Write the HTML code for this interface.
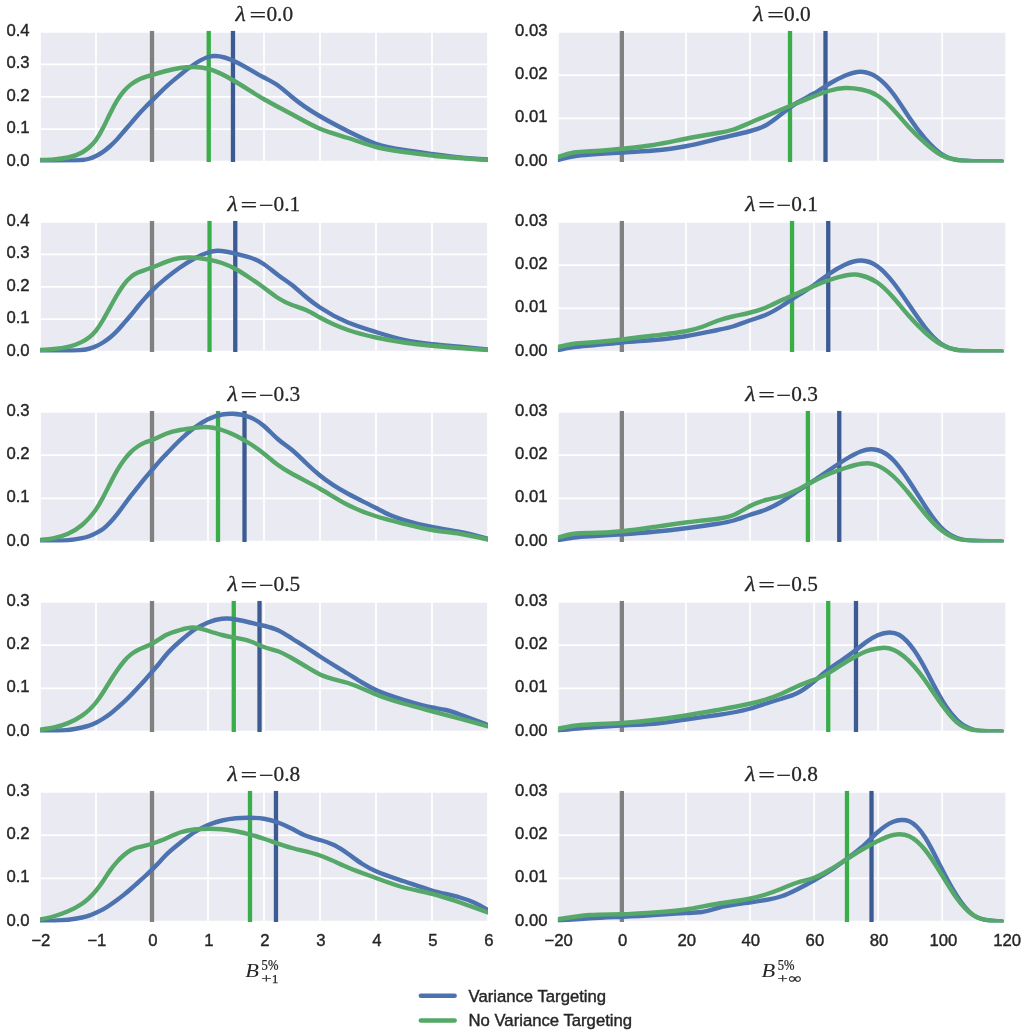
<!DOCTYPE html><html><head><meta charset="utf-8"><title>Bias densities</title>
<style>html,body{margin:0;padding:0;background:#fff}svg{display:block}.t{font-family:"Liberation Sans",sans-serif;font-size:16.7px;fill:#262626;stroke:#262626;stroke-width:0.4px}.m{font-family:"Liberation Serif",serif;fill:#262626;stroke:#262626;stroke-width:0.25px}.c{fill:none;stroke-width:4.4;stroke-linecap:round;stroke-linejoin:round}.v{fill:none;stroke-width:4.3}.g{stroke:#fff;stroke-width:1.67;fill:none}</style></head><body>
<svg width="1024" height="1035" viewBox="0 0 1024 1035">
<rect width="1024" height="1035" fill="#fff"/>
<defs>
<clipPath id="cl0"><rect x="40.00" y="30.70" width="448.00" height="131.80"/></clipPath>
<clipPath id="cr0"><rect x="557.90" y="30.70" width="447.50" height="131.80"/></clipPath>
<clipPath id="cl1"><rect x="40.00" y="220.70" width="448.00" height="131.80"/></clipPath>
<clipPath id="cr1"><rect x="557.90" y="220.70" width="447.50" height="131.80"/></clipPath>
<clipPath id="cl2"><rect x="40.00" y="410.70" width="448.00" height="131.80"/></clipPath>
<clipPath id="cr2"><rect x="557.90" y="410.70" width="447.50" height="131.80"/></clipPath>
<clipPath id="cl3"><rect x="40.00" y="600.70" width="448.00" height="131.80"/></clipPath>
<clipPath id="cr3"><rect x="557.90" y="600.70" width="447.50" height="131.80"/></clipPath>
<clipPath id="cl4"><rect x="40.00" y="790.70" width="448.00" height="131.80"/></clipPath>
<clipPath id="cr4"><rect x="557.90" y="790.70" width="447.50" height="131.80"/></clipPath>
</defs>
<g>
<rect x="40.00" y="32.00" width="448.00" height="129.60" fill="#eaeaf2"/>
<g clip-path="url(#cl0)">
<path class="g" d="M40.00 32.00V161.60M96.00 32.00V161.60M152.00 32.00V161.60M208.00 32.00V161.60M264.00 32.00V161.60M320.00 32.00V161.60M376.00 32.00V161.60M432.00 32.00V161.60M488.00 32.00V161.60M40.00 161.60H488.00M40.00 129.20H488.00M40.00 96.80H488.00M40.00 64.40H488.00M40.00 32.00H488.00"/>
<path class="v" stroke="#808080" d="M152.00 30.70V162.10"/>
<path class="v" stroke="#39ad48" d="M208.73 30.70V162.10"/>
<path class="v" stroke="#3b5b92" d="M232.98 30.70V162.10"/>
<path class="c" stroke="#4c72b0" d="M40.00 161.00C49.33 160.88 58.67 160.76 68.00 160.62C72.67 160.56 77.33 160.49 82.00 160.00C84.33 159.75 86.67 159.40 89.00 158.75C91.33 158.10 93.67 157.15 96.00 156.00C98.33 154.85 100.67 153.50 103.00 151.88C105.33 150.25 107.67 148.33 110.00 146.25C112.33 144.17 114.67 141.92 117.00 139.38C119.33 136.83 121.67 134.00 124.00 131.25C126.33 128.50 128.67 125.84 131.00 123.12C133.33 120.41 135.67 117.64 138.00 115.00C140.33 112.36 142.67 109.86 145.00 107.50C147.33 105.14 149.67 102.92 152.00 100.62C156.67 96.04 161.33 91.19 166.00 86.88C170.67 82.56 175.33 78.80 180.00 75.00C189.33 67.41 198.67 59.69 208.00 57.00C209.87 56.46 211.73 56.13 213.60 56.00C221.07 55.49 228.53 58.32 236.00 62.00C245.33 66.60 254.67 72.54 264.00 77.50C268.67 79.98 273.33 82.22 278.00 85.50C282.67 88.78 287.33 93.11 292.00 97.00C301.33 104.78 310.67 110.82 320.00 116.25C329.33 121.68 338.67 126.52 348.00 131.25C357.33 135.98 366.67 140.61 376.00 143.75C385.33 146.89 394.67 148.54 404.00 150.00C413.33 151.46 422.67 152.72 432.00 154.00C441.33 155.28 450.67 156.58 460.00 157.50C469.33 158.42 478.67 158.96 488.00 159.50"/>
<path class="c" stroke="#55a868" d="M40.00 160.00C44.67 159.86 49.33 159.73 54.00 159.38C58.67 159.02 63.33 158.46 68.00 157.50C72.67 156.54 77.33 155.18 82.00 152.50C84.33 151.16 86.67 149.49 89.00 147.50C91.33 145.51 93.67 143.20 96.00 140.00C98.33 136.80 100.67 132.69 103.00 128.12C105.33 123.56 107.67 118.53 110.00 113.75C112.33 108.97 114.67 104.45 117.00 100.62C119.33 96.80 121.67 93.66 124.00 91.00C126.33 88.34 128.67 86.17 131.00 84.38C133.33 82.58 135.67 81.16 138.00 80.00C142.67 77.67 147.33 76.36 152.00 75.00C156.67 73.64 161.33 72.23 166.00 71.00C170.67 69.77 175.33 68.71 180.00 68.00C184.67 67.29 189.33 66.93 194.00 67.00C198.67 67.07 203.33 67.56 208.00 68.75C217.33 71.13 226.67 76.32 236.00 82.00C245.33 87.68 254.67 93.87 264.00 99.25C273.33 104.63 282.67 109.20 292.00 114.25C301.33 119.30 310.67 124.82 320.00 128.75C329.33 132.68 338.67 135.03 348.00 138.00C357.33 140.97 366.67 144.56 376.00 147.00C385.33 149.44 394.67 150.74 404.00 152.00C413.33 153.26 422.67 154.49 432.00 155.50C441.33 156.51 450.67 157.29 460.00 158.00C469.33 158.71 478.67 159.36 488.00 160.00"/>
</g>
<text class="t" x="29.60" y="165.50" text-anchor="end">0.0</text>
<text class="t" x="29.60" y="133.10" text-anchor="end">0.1</text>
<text class="t" x="29.60" y="100.70" text-anchor="end">0.2</text>
<text class="t" x="29.60" y="68.30" text-anchor="end">0.3</text>
<text class="t" x="29.60" y="35.90" text-anchor="end">0.4</text>
<g class="m" font-size="20.5px" transform="translate(264.00 20.60)">
<text transform="translate(-28.50 0.0) scale(1.160 1)" font-style="italic">λ</text>
<text transform="translate(-14.40 1.5) scale(1.450 1)">=</text>
<text transform="translate(2.40 0.0) scale(1.040 1)">0.0</text>
</g>
</g>
<g>
<rect x="557.90" y="32.00" width="447.50" height="129.60" fill="#eaeaf2"/>
<g clip-path="url(#cr0)">
<path class="g" d="M557.90 32.00V161.60M621.95 32.00V161.60M686.00 32.00V161.60M750.05 32.00V161.60M814.10 32.00V161.60M878.15 32.00V161.60M942.20 32.00V161.60M1006.25 32.00V161.60M557.90 161.60H1005.40M557.90 118.40H1005.40M557.90 75.20H1005.40M557.90 32.00H1005.40"/>
<path class="v" stroke="#808080" d="M621.86 30.70V162.10"/>
<path class="v" stroke="#39ad48" d="M790.02 30.70V162.10"/>
<path class="v" stroke="#3b5b92" d="M825.50 30.70V162.10"/>
<path class="c" stroke="#4c72b0" d="M558.00 160.00C563.32 158.59 568.64 157.17 573.96 156.25C579.29 155.33 584.61 154.89 589.93 154.50C600.57 153.71 611.21 153.08 621.86 152.50C632.50 151.92 643.14 151.40 653.79 150.50C664.43 149.60 675.07 148.32 685.71 146.25C696.36 144.18 707.00 141.30 717.64 138.75C728.29 136.20 738.93 133.96 749.57 131.25C754.89 129.90 760.21 128.42 765.54 125.50C770.86 122.58 776.18 118.21 781.50 114.00C786.82 109.79 792.14 105.74 797.46 102.50C802.79 99.26 808.11 96.82 813.43 93.75C818.75 90.68 824.07 86.99 829.39 83.75C834.71 80.51 840.04 77.72 845.36 75.50C850.68 73.28 856.00 71.62 861.32 71.75C866.64 71.88 871.96 73.81 877.29 77.50C882.61 81.19 887.93 86.65 893.25 93.75C898.57 100.85 903.89 109.57 909.21 117.50C914.54 125.43 919.86 132.55 925.18 138.75C930.50 144.95 935.82 150.23 941.14 153.75C946.46 157.27 951.79 159.03 957.11 160.00C962.43 160.97 967.75 161.14 973.07 161.25C982.65 161.45 992.23 161.48 1001.81 161.50"/>
<path class="c" stroke="#55a868" d="M558.00 157.00C563.32 155.22 568.64 153.43 573.96 152.50C579.29 151.57 584.61 151.48 589.93 151.25C600.57 150.79 611.21 149.77 621.86 148.75C632.50 147.73 643.14 146.72 653.79 145.00C664.43 143.28 675.07 140.87 685.71 138.75C696.36 136.63 707.00 134.81 717.64 133.00C722.96 132.09 728.29 131.19 733.61 129.50C738.93 127.81 744.25 125.33 749.57 123.00C754.89 120.67 760.21 118.49 765.54 116.25C770.86 114.01 776.18 111.71 781.50 109.50C786.82 107.29 792.14 105.16 797.46 103.00C802.79 100.84 808.11 98.64 813.43 96.50C818.75 94.36 824.07 92.29 829.39 90.75C834.71 89.21 840.04 88.20 845.36 88.00C850.68 87.80 856.00 88.40 861.32 89.50C866.64 90.60 871.96 92.21 877.29 95.50C882.61 98.79 887.93 103.76 893.25 109.50C898.57 115.24 903.89 121.74 909.21 127.50C914.54 133.26 919.86 138.28 925.18 143.00C930.50 147.72 935.82 152.13 941.14 155.00C946.46 157.87 951.79 159.20 957.11 160.00C962.43 160.80 967.75 161.08 973.07 161.25C982.65 161.56 992.23 161.53 1001.81 161.50"/>
</g>
<text class="t" x="547.50" y="165.50" text-anchor="end">0.00</text>
<text class="t" x="547.50" y="122.30" text-anchor="end">0.01</text>
<text class="t" x="547.50" y="79.10" text-anchor="end">0.02</text>
<text class="t" x="547.50" y="35.90" text-anchor="end">0.03</text>
<g class="m" font-size="20.5px" transform="translate(781.65 20.60)">
<text transform="translate(-28.50 0.0) scale(1.160 1)" font-style="italic">λ</text>
<text transform="translate(-14.40 1.5) scale(1.450 1)">=</text>
<text transform="translate(2.40 0.0) scale(1.040 1)">0.0</text>
</g>
</g>
<g>
<rect x="40.00" y="222.00" width="448.00" height="129.60" fill="#eaeaf2"/>
<g clip-path="url(#cl1)">
<path class="g" d="M40.00 222.00V351.60M96.00 222.00V351.60M152.00 222.00V351.60M208.00 222.00V351.60M264.00 222.00V351.60M320.00 222.00V351.60M376.00 222.00V351.60M432.00 222.00V351.60M488.00 222.00V351.60M40.00 351.60H488.00M40.00 319.20H488.00M40.00 286.80H488.00M40.00 254.40H488.00M40.00 222.00H488.00"/>
<path class="v" stroke="#808080" d="M152.00 220.70V352.10"/>
<path class="v" stroke="#39ad48" d="M209.51 220.70V352.10"/>
<path class="v" stroke="#3b5b92" d="M235.27 220.70V352.10"/>
<path class="c" stroke="#4c72b0" d="M40.00 351.00C49.33 350.96 58.67 350.93 68.00 350.75C72.67 350.66 77.33 350.54 82.00 350.00C84.33 349.73 86.67 349.36 89.00 348.75C91.33 348.14 93.67 347.30 96.00 346.25C98.33 345.20 100.67 343.95 103.00 342.50C105.33 341.05 107.67 339.40 110.00 337.50C112.33 335.60 114.67 333.45 117.00 331.00C119.33 328.55 121.67 325.80 124.00 323.12C126.33 320.45 128.67 317.83 131.00 315.00C133.33 312.17 135.67 309.11 138.00 306.25C140.33 303.39 142.67 300.73 145.00 298.12C147.33 295.52 149.67 292.98 152.00 290.62C156.67 285.91 161.33 281.91 166.00 278.12C170.67 274.34 175.33 270.75 180.00 267.50C184.67 264.25 189.33 261.32 194.00 258.75C198.67 256.18 203.33 253.96 208.00 252.50C211.17 251.51 214.33 250.87 217.50 250.75C223.67 250.51 229.83 252.23 236.00 253.75C240.67 254.90 245.33 255.94 250.00 257.50C254.67 259.06 259.33 261.14 264.00 264.25C268.67 267.36 273.33 271.50 278.00 275.00C282.67 278.50 287.33 281.36 292.00 285.00C296.67 288.64 301.33 293.06 306.00 297.00C310.67 300.94 315.33 304.38 320.00 307.50C329.33 313.74 338.67 318.66 348.00 322.50C357.33 326.34 366.67 329.11 376.00 332.00C385.33 334.89 394.67 337.90 404.00 340.00C413.33 342.10 422.67 343.30 432.00 344.25C441.33 345.20 450.67 345.92 460.00 346.75C469.33 347.58 478.67 348.54 488.00 349.50"/>
<path class="c" stroke="#55a868" d="M40.00 350.00C44.67 349.72 49.33 349.44 54.00 349.00C58.67 348.56 63.33 347.95 68.00 346.88C72.67 345.80 77.33 344.26 82.00 341.88C84.33 340.68 86.67 339.28 89.00 337.50C91.33 335.72 93.67 333.56 96.00 330.62C98.33 327.69 100.67 323.98 103.00 320.00C105.33 316.02 107.67 311.77 110.00 307.50C112.33 303.23 114.67 298.95 117.00 295.00C119.33 291.05 121.67 287.43 124.00 284.38C126.33 281.32 128.67 278.82 131.00 276.88C133.33 274.93 135.67 273.54 138.00 272.50C140.33 271.46 142.67 270.76 145.00 270.00C147.33 269.24 149.67 268.40 152.00 267.50C156.67 265.70 161.33 263.63 166.00 261.88C170.67 260.12 175.33 258.68 180.00 258.00C183.33 257.51 186.67 257.41 190.00 257.50C196.00 257.65 202.00 258.40 208.00 259.50C212.67 260.35 217.33 261.42 222.00 263.00C226.67 264.58 231.33 266.67 236.00 269.25C240.67 271.83 245.33 274.89 250.00 278.00C254.67 281.11 259.33 284.28 264.00 287.75C268.67 291.22 273.33 294.99 278.00 298.00C282.67 301.01 287.33 303.26 292.00 305.00C296.67 306.74 301.33 307.96 306.00 310.00C310.67 312.04 315.33 314.90 320.00 317.50C324.67 320.10 329.33 322.42 334.00 324.50C338.67 326.58 343.33 328.40 348.00 330.00C357.33 333.20 366.67 335.51 376.00 337.50C385.33 339.49 394.67 341.15 404.00 342.50C413.33 343.85 422.67 344.88 432.00 345.75C441.33 346.62 450.67 347.32 460.00 348.00C469.33 348.68 478.67 349.34 488.00 350.00"/>
</g>
<text class="t" x="29.60" y="355.50" text-anchor="end">0.0</text>
<text class="t" x="29.60" y="323.10" text-anchor="end">0.1</text>
<text class="t" x="29.60" y="290.70" text-anchor="end">0.2</text>
<text class="t" x="29.60" y="258.30" text-anchor="end">0.3</text>
<text class="t" x="29.60" y="225.90" text-anchor="end">0.4</text>
<g class="m" font-size="20.5px" transform="translate(264.00 210.60)">
<text transform="translate(-36.40 0.0) scale(1.160 1)" font-style="italic">λ</text>
<text transform="translate(-23.50 1.5) scale(1.450 1)">=</text>
<text transform="translate(-5.30 1.5) scale(1.280 1)">−</text>
<text transform="translate(9.50 0.0) scale(1.040 1)">0.1</text>
</g>
</g>
<g>
<rect x="557.90" y="222.00" width="447.50" height="129.60" fill="#eaeaf2"/>
<g clip-path="url(#cr1)">
<path class="g" d="M557.90 222.00V351.60M621.95 222.00V351.60M686.00 222.00V351.60M750.05 222.00V351.60M814.10 222.00V351.60M878.15 222.00V351.60M942.20 222.00V351.60M1006.25 222.00V351.60M557.90 351.60H1005.40M557.90 308.40H1005.40M557.90 265.20H1005.40M557.90 222.00H1005.40"/>
<path class="v" stroke="#808080" d="M621.86 220.70V352.10"/>
<path class="v" stroke="#39ad48" d="M792.04 220.70V352.10"/>
<path class="v" stroke="#3b5b92" d="M828.24 220.70V352.10"/>
<path class="c" stroke="#4c72b0" d="M558.00 350.00C563.32 348.87 568.64 347.74 573.96 347.00C579.29 346.26 584.61 345.93 589.93 345.50C600.57 344.65 611.21 343.44 621.86 342.50C632.50 341.56 643.14 340.89 653.79 340.00C664.43 339.11 675.07 337.99 685.71 336.25C696.36 334.51 707.00 332.15 717.64 330.00C722.96 328.92 728.29 327.90 733.61 326.25C738.93 324.60 744.25 322.34 749.57 320.50C754.89 318.66 760.21 317.25 765.54 315.00C770.86 312.75 776.18 309.65 781.50 306.25C786.82 302.85 792.14 299.16 797.46 295.75C802.79 292.34 808.11 289.22 813.43 285.50C818.75 281.78 824.07 277.47 829.39 273.75C834.71 270.03 840.04 266.91 845.36 264.50C850.68 262.09 856.00 260.41 861.32 260.50C866.64 260.59 871.96 262.47 877.29 266.25C882.61 270.03 887.93 275.72 893.25 282.50C898.57 289.28 903.89 297.14 909.21 305.00C914.54 312.86 919.86 320.70 925.18 327.50C930.50 334.30 935.82 340.05 941.14 343.75C946.46 347.45 951.79 349.08 957.11 350.00C962.43 350.92 967.75 351.12 973.07 351.25C982.65 351.49 992.23 351.49 1001.81 351.50"/>
<path class="c" stroke="#55a868" d="M558.00 347.00C563.32 345.74 568.64 344.48 573.96 343.75C579.29 343.02 584.61 342.82 589.93 342.50C600.57 341.87 611.21 340.79 621.86 339.50C632.50 338.21 643.14 336.72 653.79 335.50C664.43 334.28 675.07 333.33 685.71 331.25C691.04 330.21 696.36 328.89 701.68 327.00C707.00 325.11 712.32 322.67 717.64 320.75C722.96 318.83 728.29 317.45 733.61 316.25C738.93 315.05 744.25 314.03 749.57 312.75C754.89 311.47 760.21 309.93 765.54 307.75C770.86 305.57 776.18 302.75 781.50 300.25C786.82 297.75 792.14 295.56 797.46 293.25C802.79 290.94 808.11 288.53 813.43 286.25C818.75 283.97 824.07 281.84 829.39 280.00C834.71 278.16 840.04 276.60 845.36 275.50C848.55 274.84 851.74 274.35 854.94 274.50C857.06 274.60 859.19 274.99 861.32 275.50C866.64 276.78 871.96 278.82 877.29 282.50C882.61 286.18 887.93 291.49 893.25 297.50C898.57 303.51 903.89 310.21 909.21 316.25C914.54 322.29 919.86 327.68 925.18 332.50C930.50 337.32 935.82 341.56 941.14 344.50C946.46 347.44 951.79 349.08 957.11 350.00C962.43 350.92 967.75 351.12 973.07 351.25C982.65 351.48 992.23 351.49 1001.81 351.50"/>
</g>
<text class="t" x="547.50" y="355.50" text-anchor="end">0.00</text>
<text class="t" x="547.50" y="312.30" text-anchor="end">0.01</text>
<text class="t" x="547.50" y="269.10" text-anchor="end">0.02</text>
<text class="t" x="547.50" y="225.90" text-anchor="end">0.03</text>
<g class="m" font-size="20.5px" transform="translate(781.65 210.60)">
<text transform="translate(-36.40 0.0) scale(1.160 1)" font-style="italic">λ</text>
<text transform="translate(-23.50 1.5) scale(1.450 1)">=</text>
<text transform="translate(-5.30 1.5) scale(1.280 1)">−</text>
<text transform="translate(9.50 0.0) scale(1.040 1)">0.1</text>
</g>
</g>
<g>
<rect x="40.00" y="412.00" width="448.00" height="129.60" fill="#eaeaf2"/>
<g clip-path="url(#cl2)">
<path class="g" d="M40.00 412.00V541.60M96.00 412.00V541.60M152.00 412.00V541.60M208.00 412.00V541.60M264.00 412.00V541.60M320.00 412.00V541.60M376.00 412.00V541.60M432.00 412.00V541.60M488.00 412.00V541.60M40.00 541.60H488.00M40.00 498.40H488.00M40.00 455.20H488.00M40.00 412.00H488.00"/>
<path class="v" stroke="#808080" d="M152.00 410.70V542.10"/>
<path class="v" stroke="#39ad48" d="M218.02 410.70V542.10"/>
<path class="v" stroke="#3b5b92" d="M244.51 410.70V542.10"/>
<path class="c" stroke="#4c72b0" d="M40.00 541.00C44.67 540.91 49.33 540.82 54.00 540.75C58.67 540.68 63.33 540.64 68.00 540.25C72.67 539.86 77.33 539.11 82.00 538.12C84.33 537.63 86.67 537.09 89.00 536.25C91.33 535.41 93.67 534.29 96.00 533.12C98.33 531.96 100.67 530.74 103.00 529.00C105.33 527.26 107.67 524.98 110.00 522.50C112.33 520.02 114.67 517.33 117.00 514.38C119.33 511.42 121.67 508.20 124.00 505.00C126.33 501.80 128.67 498.63 131.00 495.62C133.33 492.62 135.67 489.80 138.00 486.88C140.33 483.95 142.67 480.94 145.00 478.12C147.33 475.31 149.67 472.71 152.00 470.00C154.33 467.29 156.67 464.49 159.00 461.88C161.33 459.26 163.67 456.83 166.00 454.38C170.67 449.47 175.33 444.50 180.00 440.00C184.67 435.50 189.33 431.49 194.00 428.00C198.67 424.51 203.33 421.54 208.00 419.25C212.67 416.96 217.33 415.35 222.00 414.50C225.50 413.87 229.00 413.66 232.50 413.75C238.33 413.90 244.17 414.86 250.00 417.25C254.67 419.16 259.33 421.99 264.00 426.00C268.67 430.01 273.33 435.20 278.00 439.25C282.67 443.30 287.33 446.19 292.00 450.00C296.67 453.81 301.33 458.52 306.00 463.00C310.67 467.48 315.33 471.72 320.00 475.50C329.33 483.05 338.67 488.72 348.00 493.75C357.33 498.78 366.67 503.16 376.00 508.00C380.67 510.42 385.33 512.96 390.00 515.00C394.67 517.04 399.33 518.58 404.00 520.00C413.33 522.84 422.67 525.18 432.00 527.00C441.33 528.82 450.67 530.13 460.00 532.00C469.33 533.87 478.67 536.31 488.00 538.75"/>
<path class="c" stroke="#55a868" d="M40.00 540.00C44.67 539.53 49.33 539.06 54.00 538.12C58.67 537.19 63.33 535.80 68.00 533.75C72.67 531.70 77.33 529.00 82.00 525.00C84.33 523.00 86.67 520.68 89.00 518.12C91.33 515.57 93.67 512.79 96.00 509.38C98.33 505.96 100.67 501.90 103.00 497.50C105.33 493.10 107.67 488.37 110.00 483.75C112.33 479.13 114.67 474.63 117.00 470.62C119.33 466.62 121.67 463.12 124.00 460.00C126.33 456.88 128.67 454.15 131.00 451.88C133.33 449.60 135.67 447.79 138.00 446.25C140.33 444.71 142.67 443.46 145.00 442.50C147.33 441.54 149.67 440.88 152.00 440.00C156.67 438.24 161.33 435.60 166.00 433.75C170.67 431.90 175.33 430.82 180.00 430.00C184.67 429.18 189.33 428.61 194.00 428.00C197.67 427.52 201.33 427.01 205.00 427.00C210.67 426.99 216.33 428.18 222.00 430.00C226.67 431.50 231.33 433.44 236.00 435.75C240.67 438.06 245.33 440.75 250.00 443.75C254.67 446.75 259.33 450.04 264.00 453.75C268.67 457.46 273.33 461.57 278.00 465.00C282.67 468.43 287.33 471.17 292.00 473.75C301.33 478.91 310.67 483.43 320.00 488.75C329.33 494.07 338.67 500.18 348.00 505.00C357.33 509.82 366.67 513.35 376.00 516.25C385.33 519.15 394.67 521.43 404.00 523.75C413.33 526.07 422.67 528.44 432.00 530.00C441.33 531.56 450.67 532.30 460.00 533.75C469.33 535.20 478.67 537.35 488.00 539.50"/>
</g>
<text class="t" x="29.60" y="545.50" text-anchor="end">0.0</text>
<text class="t" x="29.60" y="502.30" text-anchor="end">0.1</text>
<text class="t" x="29.60" y="459.10" text-anchor="end">0.2</text>
<text class="t" x="29.60" y="415.90" text-anchor="end">0.3</text>
<g class="m" font-size="20.5px" transform="translate(264.00 400.60)">
<text transform="translate(-36.40 0.0) scale(1.160 1)" font-style="italic">λ</text>
<text transform="translate(-23.50 1.5) scale(1.450 1)">=</text>
<text transform="translate(-5.30 1.5) scale(1.280 1)">−</text>
<text transform="translate(9.50 0.0) scale(1.040 1)">0.3</text>
</g>
</g>
<g>
<rect x="557.90" y="412.00" width="447.50" height="129.60" fill="#eaeaf2"/>
<g clip-path="url(#cr2)">
<path class="g" d="M557.90 412.00V541.60M621.95 412.00V541.60M686.00 412.00V541.60M750.05 412.00V541.60M814.10 412.00V541.60M878.15 412.00V541.60M942.20 412.00V541.60M1006.25 412.00V541.60M557.90 541.60H1005.40M557.90 498.40H1005.40M557.90 455.20H1005.40M557.90 412.00H1005.40"/>
<path class="v" stroke="#808080" d="M621.86 410.70V542.10"/>
<path class="v" stroke="#39ad48" d="M807.90 410.70V542.10"/>
<path class="v" stroke="#3b5b92" d="M839.26 410.70V542.10"/>
<path class="c" stroke="#4c72b0" d="M558.00 540.00C563.32 539.06 568.64 538.12 573.96 537.50C579.29 536.88 584.61 536.57 589.93 536.25C600.57 535.62 611.21 534.97 621.86 534.25C632.50 533.53 643.14 532.74 653.79 531.75C664.43 530.76 675.07 529.59 685.71 528.25C696.36 526.91 707.00 525.42 717.64 523.75C722.96 522.91 728.29 522.03 733.61 520.50C738.93 518.97 744.25 516.79 749.57 515.00C754.89 513.21 760.21 511.81 765.54 509.75C770.86 507.69 776.18 504.97 781.50 501.75C786.82 498.53 792.14 494.82 797.46 491.25C802.79 487.68 808.11 484.27 813.43 480.75C818.75 477.23 824.07 473.61 829.39 470.00C834.71 466.39 840.04 462.80 845.36 459.50C850.68 456.20 856.00 453.18 861.32 451.25C864.51 450.09 867.71 449.33 870.90 449.25C873.03 449.20 875.16 449.45 877.29 450.00C882.61 451.37 887.93 454.57 893.25 460.00C898.57 465.43 903.89 473.09 909.21 481.25C914.54 489.41 919.86 498.09 925.18 506.25C930.50 514.41 935.82 522.07 941.14 527.50C946.46 532.93 951.79 536.13 957.11 538.00C962.43 539.87 967.75 540.40 973.07 540.75C982.65 541.38 992.23 541.44 1001.81 541.50"/>
<path class="c" stroke="#55a868" d="M558.00 537.50C563.32 535.99 568.64 534.48 573.96 533.75C579.29 533.02 584.61 533.06 589.93 533.00C600.57 532.87 611.21 532.32 621.86 531.25C632.50 530.18 643.14 528.59 653.79 527.00C664.43 525.41 675.07 523.81 685.71 522.50C696.36 521.19 707.00 520.16 717.64 518.75C722.96 518.04 728.29 517.24 733.61 515.00C738.93 512.76 744.25 509.09 749.57 506.25C754.89 503.41 760.21 501.40 765.54 500.00C770.86 498.60 776.18 497.79 781.50 496.25C786.82 494.71 792.14 492.42 797.46 489.75C802.79 487.08 808.11 484.04 813.43 481.25C818.75 478.46 824.07 475.93 829.39 473.75C834.71 471.57 840.04 469.74 845.36 468.00C850.68 466.26 856.00 464.63 861.32 463.75C863.45 463.40 865.58 463.17 867.71 463.25C870.90 463.37 874.09 464.17 877.29 465.50C882.61 467.71 887.93 471.38 893.25 476.25C898.57 481.12 903.89 487.18 909.21 493.75C914.54 500.32 919.86 507.40 925.18 513.75C930.50 520.10 935.82 525.73 941.14 530.00C946.46 534.27 951.79 537.18 957.11 538.75C962.43 540.32 967.75 540.56 973.07 540.75C982.65 541.10 992.23 541.30 1001.81 541.50"/>
</g>
<text class="t" x="547.50" y="545.50" text-anchor="end">0.00</text>
<text class="t" x="547.50" y="502.30" text-anchor="end">0.01</text>
<text class="t" x="547.50" y="459.10" text-anchor="end">0.02</text>
<text class="t" x="547.50" y="415.90" text-anchor="end">0.03</text>
<g class="m" font-size="20.5px" transform="translate(781.65 400.60)">
<text transform="translate(-36.40 0.0) scale(1.160 1)" font-style="italic">λ</text>
<text transform="translate(-23.50 1.5) scale(1.450 1)">=</text>
<text transform="translate(-5.30 1.5) scale(1.280 1)">−</text>
<text transform="translate(9.50 0.0) scale(1.040 1)">0.3</text>
</g>
</g>
<g>
<rect x="40.00" y="602.00" width="448.00" height="129.60" fill="#eaeaf2"/>
<g clip-path="url(#cl3)">
<path class="g" d="M40.00 602.00V731.60M96.00 602.00V731.60M152.00 602.00V731.60M208.00 602.00V731.60M264.00 602.00V731.60M320.00 602.00V731.60M376.00 602.00V731.60M432.00 602.00V731.60M488.00 602.00V731.60M40.00 731.60H488.00M40.00 688.40H488.00M40.00 645.20H488.00M40.00 602.00H488.00"/>
<path class="v" stroke="#808080" d="M152.00 600.70V732.10"/>
<path class="v" stroke="#39ad48" d="M233.76 600.70V732.10"/>
<path class="v" stroke="#3b5b92" d="M259.52 600.70V732.10"/>
<path class="c" stroke="#4c72b0" d="M40.00 731.00C44.67 730.93 49.33 730.85 54.00 730.75C58.67 730.65 63.33 730.52 68.00 730.00C72.67 729.48 77.33 728.57 82.00 727.50C84.33 726.96 86.67 726.39 89.00 725.62C91.33 724.86 93.67 723.92 96.00 722.75C98.33 721.58 100.67 720.20 103.00 718.75C105.33 717.30 107.67 715.78 110.00 714.00C112.33 712.22 114.67 710.17 117.00 708.12C119.33 706.08 121.67 704.04 124.00 701.88C126.33 699.71 128.67 697.43 131.00 695.00C133.33 692.57 135.67 689.99 138.00 687.50C140.33 685.01 142.67 682.61 145.00 680.00C147.33 677.39 149.67 674.57 152.00 671.88C154.33 669.18 156.67 666.60 159.00 663.75C161.33 660.90 163.67 657.77 166.00 655.00C170.67 649.45 175.33 645.31 180.00 641.25C184.67 637.19 189.33 633.20 194.00 630.00C198.67 626.80 203.33 624.38 208.00 622.50C212.67 620.62 217.33 619.29 222.00 618.75C223.83 618.54 225.67 618.45 227.50 618.50C230.33 618.58 233.17 618.99 236.00 619.50C240.67 620.34 245.33 621.43 250.00 622.50C254.67 623.57 259.33 624.62 264.00 625.75C268.67 626.88 273.33 628.08 278.00 630.25C282.67 632.42 287.33 635.54 292.00 638.50C296.67 641.46 301.33 644.25 306.00 647.25C310.67 650.25 315.33 653.47 320.00 656.50C329.33 662.57 338.67 667.91 348.00 673.75C352.67 676.67 357.33 679.71 362.00 682.50C366.67 685.29 371.33 687.84 376.00 690.00C385.33 694.33 394.67 697.13 404.00 700.00C413.33 702.87 422.67 705.80 432.00 707.50C436.67 708.35 441.33 708.89 446.00 710.00C450.67 711.11 455.33 712.79 460.00 714.50C469.33 717.92 478.67 721.46 488.00 725.00"/>
<path class="c" stroke="#55a868" d="M40.00 729.75C44.67 729.14 49.33 728.53 54.00 727.50C58.67 726.47 63.33 725.02 68.00 723.12C72.67 721.23 77.33 718.88 82.00 715.62C84.33 714.00 86.67 712.14 89.00 710.00C91.33 707.86 93.67 705.43 96.00 702.50C98.33 699.57 100.67 696.15 103.00 692.50C105.33 688.85 107.67 684.96 110.00 681.25C112.33 677.54 114.67 674.01 117.00 670.62C119.33 667.24 121.67 664.01 124.00 661.25C126.33 658.49 128.67 656.20 131.00 654.38C133.33 652.55 135.67 651.18 138.00 650.00C140.33 648.82 142.67 647.83 145.00 646.88C147.33 645.92 149.67 644.99 152.00 643.75C154.33 642.51 156.67 640.94 159.00 639.38C161.33 637.81 163.67 636.24 166.00 635.00C170.67 632.51 175.33 631.31 180.00 630.00C184.17 628.83 188.33 627.59 192.50 627.50C197.67 627.39 202.83 629.07 208.00 630.75C212.67 632.27 217.33 633.78 222.00 635.00C226.67 636.22 231.33 637.15 236.00 638.00C240.67 638.85 245.33 639.63 250.00 641.25C254.67 642.87 259.33 645.34 264.00 647.00C268.67 648.66 273.33 649.52 278.00 651.25C282.67 652.98 287.33 655.58 292.00 658.25C296.67 660.92 301.33 663.65 306.00 666.50C310.67 669.35 315.33 672.32 320.00 674.50C329.33 678.86 338.67 680.04 348.00 683.00C357.33 685.96 366.67 690.71 376.00 694.50C385.33 698.29 394.67 701.13 404.00 703.75C413.33 706.37 422.67 708.78 432.00 711.25C441.33 713.72 450.67 716.24 460.00 718.75C469.33 721.26 478.67 723.75 488.00 726.25"/>
</g>
<text class="t" x="29.60" y="735.50" text-anchor="end">0.0</text>
<text class="t" x="29.60" y="692.30" text-anchor="end">0.1</text>
<text class="t" x="29.60" y="649.10" text-anchor="end">0.2</text>
<text class="t" x="29.60" y="605.90" text-anchor="end">0.3</text>
<g class="m" font-size="20.5px" transform="translate(264.00 590.60)">
<text transform="translate(-36.40 0.0) scale(1.160 1)" font-style="italic">λ</text>
<text transform="translate(-23.50 1.5) scale(1.450 1)">=</text>
<text transform="translate(-5.30 1.5) scale(1.280 1)">−</text>
<text transform="translate(9.50 0.0) scale(1.040 1)">0.5</text>
</g>
</g>
<g>
<rect x="557.90" y="602.00" width="447.50" height="129.60" fill="#eaeaf2"/>
<g clip-path="url(#cr3)">
<path class="g" d="M557.90 602.00V731.60M621.95 602.00V731.60M686.00 602.00V731.60M750.05 602.00V731.60M814.10 602.00V731.60M878.15 602.00V731.60M942.20 602.00V731.60M1006.25 602.00V731.60M557.90 731.60H1005.40M557.90 688.40H1005.40M557.90 645.20H1005.40M557.90 602.00H1005.40"/>
<path class="v" stroke="#808080" d="M621.86 600.70V732.10"/>
<path class="v" stroke="#39ad48" d="M828.24 600.70V732.10"/>
<path class="v" stroke="#3b5b92" d="M855.99 600.70V732.10"/>
<path class="c" stroke="#4c72b0" d="M558.00 730.50C563.32 729.88 568.64 729.25 573.96 728.75C579.29 728.25 584.61 727.87 589.93 727.50C600.57 726.75 611.21 726.00 621.86 725.50C632.50 725.00 643.14 724.74 653.79 723.75C664.43 722.76 675.07 721.05 685.71 719.50C696.36 717.95 707.00 716.56 717.64 715.00C728.29 713.44 738.93 711.71 749.57 708.75C754.89 707.27 760.21 705.48 765.54 703.75C770.86 702.02 776.18 700.33 781.50 698.75C786.82 697.17 792.14 695.68 797.46 693.00C802.79 690.32 808.11 686.46 813.43 682.00C816.94 679.06 820.45 675.86 823.96 673.00C829.39 668.58 834.82 664.96 840.25 661.25C845.46 657.68 850.68 654.03 855.89 650.00C859.41 647.29 862.92 644.41 866.43 641.88C870.16 639.19 873.88 636.88 877.61 635.25C881.60 633.50 885.59 632.53 889.58 632.50C892.72 632.48 895.86 633.04 899.00 634.75C901.44 636.08 903.89 638.12 906.34 640.62C908.89 643.24 911.45 646.37 914.00 650.00C917.30 654.69 920.60 660.23 923.90 666.25C927.63 673.05 931.35 680.47 935.08 687.50C938.70 694.33 942.31 700.78 945.93 706.25C949.66 711.88 953.38 716.46 957.11 720.00C962.43 725.05 967.75 727.98 973.07 729.50C978.39 731.02 983.71 731.14 989.04 731.25C993.29 731.34 997.55 731.42 1001.81 731.50"/>
<path class="c" stroke="#55a868" d="M558.00 728.75C563.32 727.61 568.64 726.47 573.96 725.75C579.29 725.03 584.61 724.75 589.93 724.50C600.57 724.01 611.21 723.68 621.86 723.00C632.50 722.32 643.14 721.28 653.79 720.00C664.43 718.72 675.07 717.21 685.71 715.50C696.36 713.79 707.00 711.89 717.64 710.00C728.29 708.11 738.93 706.24 749.57 703.75C754.89 702.51 760.21 701.11 765.54 699.50C770.86 697.89 776.18 696.07 781.50 693.75C786.82 691.43 792.14 688.62 797.46 686.25C802.79 683.88 808.11 681.97 813.43 680.00C816.94 678.70 820.45 677.38 823.96 675.62C829.39 672.91 834.82 669.14 840.25 665.62C845.46 662.25 850.68 659.11 855.89 656.25C859.41 654.32 862.92 652.52 866.43 651.25C870.16 649.91 873.88 649.17 877.61 648.50C879.73 648.12 881.86 647.76 883.99 647.75C887.29 647.73 890.59 648.54 893.89 650.00C897.19 651.46 900.49 653.57 903.79 656.25C907.19 659.02 910.60 662.40 914.00 666.25C917.30 669.98 920.60 674.16 923.90 678.75C925.92 681.56 927.95 684.52 929.97 687.50C933.69 692.98 937.42 698.52 941.14 703.75C946.46 711.22 951.79 718.07 957.11 722.50C962.43 726.93 967.75 728.95 973.07 730.00C978.39 731.05 983.71 731.15 989.04 731.25C993.29 731.33 997.55 731.42 1001.81 731.50"/>
</g>
<text class="t" x="547.50" y="735.50" text-anchor="end">0.00</text>
<text class="t" x="547.50" y="692.30" text-anchor="end">0.01</text>
<text class="t" x="547.50" y="649.10" text-anchor="end">0.02</text>
<text class="t" x="547.50" y="605.90" text-anchor="end">0.03</text>
<g class="m" font-size="20.5px" transform="translate(781.65 590.60)">
<text transform="translate(-36.40 0.0) scale(1.160 1)" font-style="italic">λ</text>
<text transform="translate(-23.50 1.5) scale(1.450 1)">=</text>
<text transform="translate(-5.30 1.5) scale(1.280 1)">−</text>
<text transform="translate(9.50 0.0) scale(1.040 1)">0.5</text>
</g>
</g>
<g>
<rect x="40.00" y="792.00" width="448.00" height="129.60" fill="#eaeaf2"/>
<g clip-path="url(#cl4)">
<path class="g" d="M40.00 792.00V921.60M96.00 792.00V921.60M152.00 792.00V921.60M208.00 792.00V921.60M264.00 792.00V921.60M320.00 792.00V921.60M376.00 792.00V921.60M432.00 792.00V921.60M488.00 792.00V921.60M40.00 921.60H488.00M40.00 878.40H488.00M40.00 835.20H488.00M40.00 792.00H488.00"/>
<path class="v" stroke="#808080" d="M152.00 790.70V922.10"/>
<path class="v" stroke="#39ad48" d="M250.00 790.70V922.10"/>
<path class="v" stroke="#3b5b92" d="M275.98 790.70V922.10"/>
<path class="c" stroke="#4c72b0" d="M40.00 921.00C44.67 920.96 49.33 920.92 54.00 920.75C58.67 920.58 63.33 920.27 68.00 919.75C72.67 919.23 77.33 918.50 82.00 917.50C84.33 917.00 86.67 916.43 89.00 915.62C91.33 914.82 93.67 913.79 96.00 912.75C98.33 911.71 100.67 910.65 103.00 909.38C105.33 908.10 107.67 906.59 110.00 905.00C112.33 903.41 114.67 901.73 117.00 900.00C119.33 898.27 121.67 896.49 124.00 894.62C126.33 892.76 128.67 890.79 131.00 888.75C133.33 886.71 135.67 884.58 138.00 882.50C140.33 880.42 142.67 878.38 145.00 876.25C147.33 874.12 149.67 871.91 152.00 869.62C154.33 867.34 156.67 865.00 159.00 862.50C161.33 860.00 163.67 857.36 166.00 855.00C170.67 850.28 175.33 846.67 180.00 843.00C184.67 839.33 189.33 835.59 194.00 832.50C198.67 829.41 203.33 826.95 208.00 825.00C212.67 823.05 217.33 821.60 222.00 820.50C226.67 819.40 231.33 818.67 236.00 818.25C239.83 817.91 243.67 817.78 247.50 817.75C253.00 817.71 258.50 817.86 264.00 818.75C268.67 819.51 273.33 820.79 278.00 822.50C282.67 824.21 287.33 826.34 292.00 828.75C296.67 831.16 301.33 833.86 306.00 835.75C310.67 837.64 315.33 838.73 320.00 840.00C324.67 841.27 329.33 842.72 334.00 845.00C338.67 847.28 343.33 850.39 348.00 853.75C352.67 857.11 357.33 860.73 362.00 863.75C366.67 866.77 371.33 869.18 376.00 871.25C385.33 875.38 394.67 878.13 404.00 881.25C413.33 884.37 422.67 887.88 432.00 890.50C441.33 893.12 450.67 894.85 460.00 897.50C464.67 898.82 469.33 900.38 474.00 902.50C478.67 904.62 483.33 907.31 488.00 910.00"/>
<path class="c" stroke="#55a868" d="M40.00 919.38C44.67 918.47 49.33 917.56 54.00 916.25C58.67 914.94 63.33 913.24 68.00 911.25C72.67 909.26 77.33 906.97 82.00 903.75C84.33 902.14 86.67 900.30 89.00 898.12C91.33 895.95 93.67 893.43 96.00 890.62C98.33 887.82 100.67 884.71 103.00 881.25C105.33 877.79 107.67 873.96 110.00 870.62C112.33 867.29 114.67 864.45 117.00 861.88C119.33 859.30 121.67 857.01 124.00 855.00C126.33 852.99 128.67 851.27 131.00 850.00C133.33 848.73 135.67 847.89 138.00 847.25C140.33 846.61 142.67 846.15 145.00 845.62C147.33 845.10 149.67 844.49 152.00 843.75C154.33 843.01 156.67 842.13 159.00 841.25C161.33 840.37 163.67 839.49 166.00 838.50C170.67 836.52 175.33 834.12 180.00 832.50C184.67 830.88 189.33 830.03 194.00 829.50C199.33 828.90 204.67 828.72 210.00 828.75C214.00 828.77 218.00 828.90 222.00 829.25C226.67 829.66 231.33 830.35 236.00 831.25C240.67 832.15 245.33 833.24 250.00 834.50C254.67 835.76 259.33 837.20 264.00 838.75C273.33 841.85 282.67 845.39 292.00 848.00C301.33 850.61 310.67 852.27 320.00 855.50C329.33 858.73 338.67 863.53 348.00 867.50C357.33 871.47 366.67 874.62 376.00 878.00C385.33 881.38 394.67 884.98 404.00 887.50C413.33 890.02 422.67 891.45 432.00 893.75C441.33 896.05 450.67 899.23 460.00 902.50C469.33 905.77 478.67 909.14 488.00 912.50"/>
</g>
<text class="t" x="29.60" y="925.50" text-anchor="end">0.0</text>
<text class="t" x="29.60" y="882.30" text-anchor="end">0.1</text>
<text class="t" x="29.60" y="839.10" text-anchor="end">0.2</text>
<text class="t" x="29.60" y="795.90" text-anchor="end">0.3</text>
<g class="m" font-size="20.5px" transform="translate(264.00 780.60)">
<text transform="translate(-36.40 0.0) scale(1.160 1)" font-style="italic">λ</text>
<text transform="translate(-23.50 1.5) scale(1.450 1)">=</text>
<text transform="translate(-5.30 1.5) scale(1.280 1)">−</text>
<text transform="translate(9.50 0.0) scale(1.040 1)">0.8</text>
</g>
</g>
<g>
<rect x="557.90" y="792.00" width="447.50" height="129.60" fill="#eaeaf2"/>
<g clip-path="url(#cr4)">
<path class="g" d="M557.90 792.00V921.60M621.95 792.00V921.60M686.00 792.00V921.60M750.05 792.00V921.60M814.10 792.00V921.60M878.15 792.00V921.60M942.20 792.00V921.60M1006.25 792.00V921.60M557.90 921.60H1005.40M557.90 878.40H1005.40M557.90 835.20H1005.40M557.90 792.00H1005.40"/>
<path class="v" stroke="#808080" d="M621.86 790.70V922.10"/>
<path class="v" stroke="#39ad48" d="M846.99 790.70V922.10"/>
<path class="v" stroke="#3b5b92" d="M871.51 790.70V922.10"/>
<path class="c" stroke="#4c72b0" d="M558.00 920.50C568.64 919.68 579.29 918.87 589.93 918.25C600.57 917.63 611.21 917.22 621.86 916.75C632.50 916.28 643.14 915.75 653.79 915.00C664.43 914.25 675.07 913.30 685.71 913.00C691.04 912.85 696.36 912.87 701.68 912.00C707.00 911.13 712.32 909.38 717.64 908.00C728.29 905.25 738.93 904.01 749.57 902.50C754.89 901.75 760.21 900.93 765.54 900.00C770.86 899.07 776.18 898.03 781.50 896.25C786.82 894.47 792.14 891.94 797.46 889.25C802.79 886.56 808.11 883.71 813.43 880.75C818.75 877.79 824.07 874.73 829.39 871.25C834.71 867.77 840.04 863.89 845.36 860.00C850.68 856.11 856.00 852.22 861.32 847.50C866.64 842.78 871.96 837.24 877.29 832.50C882.61 827.76 887.93 823.82 893.25 821.75C895.91 820.71 898.57 820.15 901.23 820.00C903.89 819.85 906.55 820.13 909.21 821.25C914.54 823.49 919.86 829.13 925.18 837.50C930.50 845.87 935.82 856.98 941.14 867.50C946.46 878.02 951.79 887.96 957.11 896.25C962.43 904.54 967.75 911.17 973.07 915.00C978.39 918.83 983.71 919.87 989.04 920.50C993.29 921.01 997.55 921.25 1001.81 921.50"/>
<path class="c" stroke="#55a868" d="M558.00 919.25C568.64 917.50 579.29 915.75 589.93 915.00C600.57 914.25 611.21 914.51 621.86 914.25C632.50 913.99 643.14 913.23 653.79 912.50C664.43 911.77 675.07 911.07 685.71 909.50C696.36 907.93 707.00 905.48 717.64 903.75C728.29 902.02 738.93 901.01 749.57 898.75C754.89 897.62 760.21 896.18 765.54 894.50C770.86 892.82 776.18 890.91 781.50 888.75C786.82 886.59 792.14 884.17 797.46 882.50C802.79 880.83 808.11 879.92 813.43 878.00C818.75 876.08 824.07 873.17 829.39 870.00C834.71 866.83 840.04 863.42 845.36 860.00C850.68 856.58 856.00 853.17 861.32 850.00C866.64 846.83 871.96 843.91 877.29 841.25C882.61 838.59 887.93 836.17 893.25 835.00C895.38 834.53 897.51 834.26 899.64 834.25C902.83 834.24 906.02 834.82 909.21 836.25C914.54 838.64 919.86 843.40 925.18 850.00C930.50 856.60 935.82 865.03 941.14 873.75C946.46 882.47 951.79 891.48 957.11 898.75C962.43 906.02 967.75 911.56 973.07 915.00C978.39 918.44 983.71 919.77 989.04 920.50C993.29 921.09 997.55 921.29 1001.81 921.50"/>
</g>
<text class="t" x="547.50" y="925.50" text-anchor="end">0.00</text>
<text class="t" x="547.50" y="882.30" text-anchor="end">0.01</text>
<text class="t" x="547.50" y="839.10" text-anchor="end">0.02</text>
<text class="t" x="547.50" y="795.90" text-anchor="end">0.03</text>
<g class="m" font-size="20.5px" transform="translate(781.65 780.60)">
<text transform="translate(-36.40 0.0) scale(1.160 1)" font-style="italic">λ</text>
<text transform="translate(-23.50 1.5) scale(1.450 1)">=</text>
<text transform="translate(-5.30 1.5) scale(1.280 1)">−</text>
<text transform="translate(9.50 0.0) scale(1.040 1)">0.8</text>
</g>
</g>
<text class="t" x="40.90" y="946.10" text-anchor="middle">−2</text>
<text class="t" x="96.90" y="946.10" text-anchor="middle">−1</text>
<text class="t" x="152.90" y="946.10" text-anchor="middle">0</text>
<text class="t" x="208.90" y="946.10" text-anchor="middle">1</text>
<text class="t" x="264.90" y="946.10" text-anchor="middle">2</text>
<text class="t" x="320.90" y="946.10" text-anchor="middle">3</text>
<text class="t" x="376.90" y="946.10" text-anchor="middle">4</text>
<text class="t" x="432.90" y="946.10" text-anchor="middle">5</text>
<text class="t" x="488.90" y="946.10" text-anchor="middle">6</text>
<text class="t" x="558.70" y="946.10" text-anchor="middle">−20</text>
<text class="t" x="622.75" y="946.10" text-anchor="middle">0</text>
<text class="t" x="686.80" y="946.10" text-anchor="middle">20</text>
<text class="t" x="750.85" y="946.10" text-anchor="middle">40</text>
<text class="t" x="814.90" y="946.10" text-anchor="middle">60</text>
<text class="t" x="878.95" y="946.10" text-anchor="middle">80</text>
<text class="t" x="943.40" y="946.10" text-anchor="middle">100</text>
<text class="t" x="1007.05" y="946.10" text-anchor="middle">120</text>
<g class="m">
<text transform="translate(245.30 977.4) scale(1.15 1)" font-size="19.5px" font-style="italic" stroke-width="0">B</text>
<text transform="translate(261.60 969.5) scale(0.9 1)" font-size="14px">5%</text>
<text transform="translate(261.30 982.9) scale(1.35 1)" font-size="13.5px">+</text>
<text transform="translate(271.70 982.9) scale(1.00 1)" font-size="13.5px">1</text>
</g>
<g class="m">
<text transform="translate(761.40 977.4) scale(1.15 1)" font-size="19.5px" font-style="italic" stroke-width="0">B</text>
<text transform="translate(777.70 969.5) scale(0.9 1)" font-size="14px">5%</text>
<text transform="translate(777.40 982.9) scale(1.35 1)" font-size="13.5px">+</text>
<text transform="translate(788.60 982.9) scale(1.35 1)" font-size="13.5px">∞</text>
</g>
<path class="c" stroke="#4c72b0" d="M420.9 995.7H454.6" style="stroke-width:4.6"/>
<path class="c" stroke="#55a868" d="M420.9 1020.5H454.6" style="stroke-width:4.6"/>
<text class="t" x="468.5" y="1001.5" >Variance Targeting</text>
<text class="t" x="468.5" y="1026.3" >No Variance Targeting</text>
</svg></body></html>
